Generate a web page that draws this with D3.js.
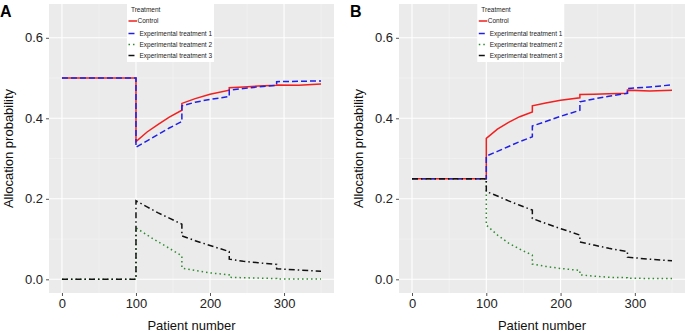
<!DOCTYPE html>
<html>
<head>
<meta charset="utf-8">
<script src="https://cdn.jsdelivr.net/npm/d3@7"></script>
<style>
  body { margin: 0; background: #fff; }
  text { font-family: "Liberation Sans", Arial, sans-serif; }
</style>
</head>
<body>
<div id="chart"></div>
<script>
// patient numbers where values were read (duplicates = step jumps)
var patients = [0, 100, 100, 115, 130, 145, 162, 162, 180, 200, 226, 226, 245, 265, 290, 290, 320, 350];

// panel A
var controlA = [0.5, 0.5, 0.342, 0.366, 0.385, 0.403, 0.420, 0.437, 0.449, 0.460, 0.470, 0.476, 0.478, 0.480, 0.482, 0.483, 0.482, 0.485];
var exp1A    = [0.5, 0.5, 0.328, 0.344, 0.360, 0.376, 0.392, 0.431, 0.440, 0.447, 0.454, 0.470, 0.474, 0.478, 0.482, 0.491, 0.492, 0.493];
var exp2A    = [0, 0, 0.128, 0.110, 0.093, 0.077, 0.058, 0.028, 0.022, 0.016, 0.011, 0.005, 0.004, 0.003, 0.002, 0.001, 0.001, 0.001];
var exp3A    = [0, 0, 0.195, 0.180, 0.165, 0.152, 0.137, 0.108, 0.096, 0.084, 0.069, 0.050, 0.045, 0.041, 0.037, 0.026, 0.023, 0.020];

// panel B
var controlB = [0.25, 0.25, 0.350, 0.373, 0.390, 0.404, 0.416, 0.431, 0.438, 0.445, 0.451, 0.459, 0.460, 0.461, 0.462, 0.470, 0.468, 0.470];
var exp1B    = [0.25, 0.25, 0.306, 0.318, 0.330, 0.342, 0.354, 0.381, 0.392, 0.405, 0.420, 0.441, 0.448, 0.455, 0.462, 0.474, 0.478, 0.483];
var exp2B    = [0.25, 0.25, 0.135, 0.110, 0.090, 0.075, 0.060, 0.038, 0.032, 0.027, 0.022, 0.011, 0.008, 0.005, 0.004, 0.003, 0.002, 0.002];
var exp3B    = [0.25, 0.25, 0.218, 0.207, 0.195, 0.184, 0.172, 0.151, 0.139, 0.126, 0.110, 0.093, 0.085, 0.077, 0.069, 0.055, 0.050, 0.046];

var seriesNames = ["Control", "Experimental treatment 1", "Experimental treatment 2", "Experimental treatment 3"];
var xTicks = [0, 100, 200, 300];
var yTicks = [0.0, 0.2, 0.4, 0.6];

var colors = ["#f21f1f", "#1f1fe6", "#2e8b2e", "#111111"];
var dashes = [null, "6,3", "1.5,3", "6,3,1.5,3"];

var svg = d3.select("#chart").append("svg")
  .attr("width", 685)
  .attr("height", 333);

function drawPanel(label, left, right, values) {
  var top = 4, bottom = 293;

  var x = d3.scaleLinear().domain([-17.5, 367.5]).range([left, right]);
  var y = d3.scaleLinear().domain([-0.034, 0.684]).range([bottom, top]);

  var g = svg.append("g");

  g.append("rect")
    .attr("x", left).attr("y", top)
    .attr("width", right - left).attr("height", bottom - top)
    .attr("fill", "#ebebeb");

  // minor grid
  [50, 150, 250, 350].forEach(function(v) {
    g.append("line").attr("x1", x(v)).attr("x2", x(v)).attr("y1", top).attr("y2", bottom)
      .attr("stroke", "#f5f5f5").attr("stroke-width", 0.6);
  });
  [0.1, 0.3, 0.5].forEach(function(v) {
    g.append("line").attr("y1", y(v)).attr("y2", y(v)).attr("x1", left).attr("x2", right)
      .attr("stroke", "#f5f5f5").attr("stroke-width", 0.6);
  });
  // major grid
  xTicks.forEach(function(v) {
    g.append("line").attr("x1", x(v)).attr("x2", x(v)).attr("y1", top).attr("y2", bottom)
      .attr("stroke", "#fff").attr("stroke-width", 1.1);
  });
  yTicks.forEach(function(v) {
    g.append("line").attr("y1", y(v)).attr("y2", y(v)).attr("x1", left).attr("x2", right)
      .attr("stroke", "#fff").attr("stroke-width", 1.1);
  });

  // axes
  var ax = g.append("g")
    .attr("transform", "translate(0," + bottom + ")")
    .call(d3.axisBottom(x).tickValues(xTicks).tickSize(3).tickPadding(3).tickFormat(d3.format("d")));
  var ay = g.append("g")
    .attr("transform", "translate(" + left + ",0)")
    .call(d3.axisLeft(y).tickValues(yTicks).tickSize(3).tickPadding(3).tickFormat(d3.format(".1f")));
  [ax, ay].forEach(function(a) {
    a.select(".domain").remove();
    a.selectAll(".tick line").attr("stroke", "#555");
    a.selectAll("text").attr("fill", "#222").style("font-size", "13px")
      .style("font-family", "'Liberation Sans', Arial, sans-serif");
  });

  g.append("text")
    .attr("x", (x(0) + x(350)) / 2).attr("y", 330)
    .attr("text-anchor", "middle")
    .style("font-size", "13px")
    .attr("fill", "#111")
    .text("Patient number");

  g.append("text")
    .attr("transform", "translate(" + (left - 36) + "," + ((top + bottom) / 2) + ") rotate(-90)")
    .attr("text-anchor", "middle")
    .style("font-size", "13px")
    .attr("fill", "#111")
    .text("Allocation probability");

  // lines
  var line = d3.line()
    .x(function(d, i) { return x(patients[i]); })
    .y(function(d) { return y(d); });

  values.forEach(function(vals, k) {
    g.append("path")
      .datum(vals)
      .attr("d", line)
      .attr("fill", "none")
      .attr("stroke", colors[k])
      .attr("stroke-width", 1.5)
      .attr("stroke-dasharray", dashes[k]);
  });

  // legend
  var lx = x(patients[1]) - 9;
  var leg = g.append("g").attr("transform", "translate(" + lx + "," + top + ")");
  leg.append("rect")
    .attr("x", 0).attr("y", 0)
    .attr("width", 87).attr("height", 58)
    .attr("fill", "#fff");
  leg.append("text")
    .attr("x", 4).attr("y", 7.5)
    .style("font-size", "6.5px")
    .attr("fill", "#222")
    .text("Treatment");
  var rowY = [17, 29.5, 40.5, 51.5];
  seriesNames.forEach(function(name, k) {
    leg.append("line")
      .attr("x1", 1.5).attr("x2", 10)
      .attr("y1", rowY[k]).attr("y2", rowY[k])
      .attr("stroke", colors[k])
      .attr("stroke-width", 1.5)
      .attr("stroke-dasharray", dashes[k]);
    leg.append("text")
      .attr("x", k === 0 ? 10.5 : 12.5).attr("y", rowY[k] + 2.3)
      .style("font-size", "6.5px")
      .attr("fill", "#222")
      .text(name);
  });

  // panel label
  svg.append("text")
    .attr("x", label === "A" ? 0 : 350).attr("y", 17)
    .style("font-size", "16px")
    .style("font-weight", "bold")
    .attr("fill", "#000")
    .text(label);
}

drawPanel("A", 49, 334, [controlA, exp1A, exp2A, exp3A]);
drawPanel("B", 399, 685, [controlB, exp1B, exp2B, exp3B]);
</script>
</body>
</html>
